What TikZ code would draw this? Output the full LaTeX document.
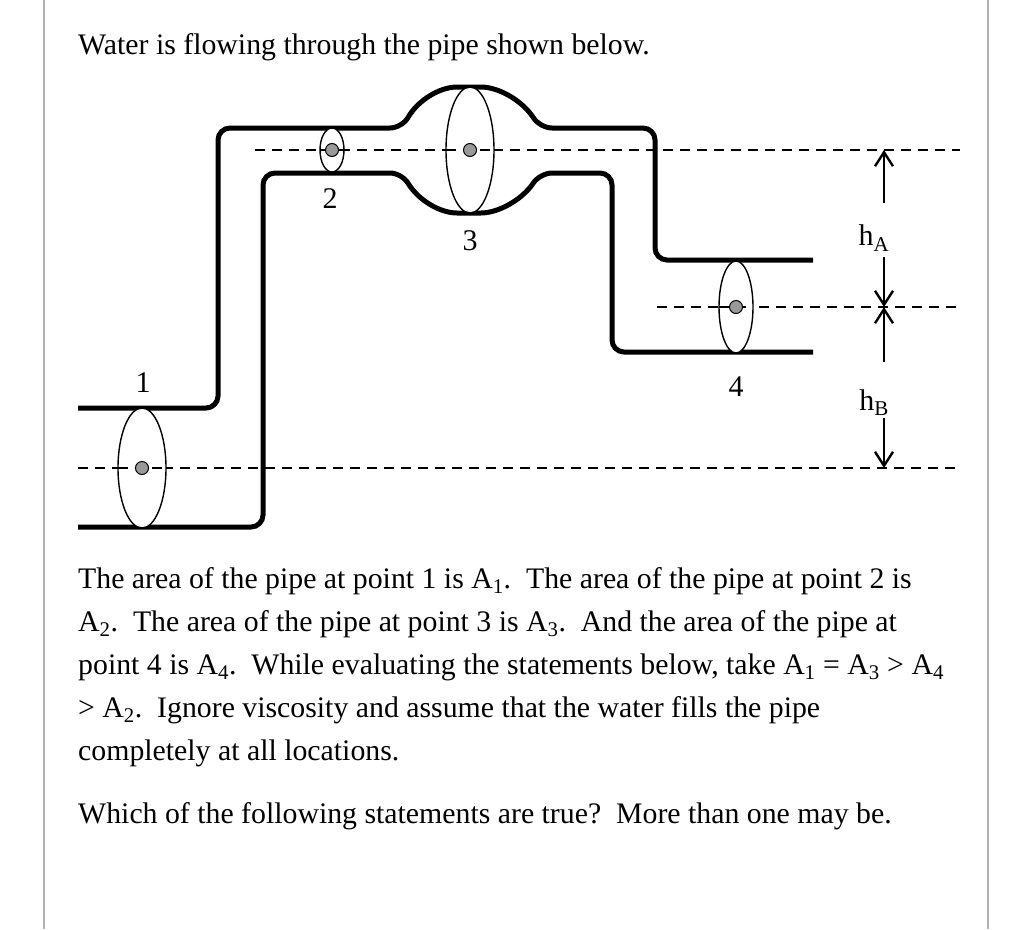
\documentclass[tikz,border=0pt]{standalone}
\usepackage{fontspec}
\setmainfont{Liberation Serif}
\usetikzlibrary{arrows.meta}
\tikzset{
 pipe/.style={line width=5pt,rounded corners=12pt},
 sect/.style={line width=1.4pt},
 dashln/.style={line width=2pt,dash pattern=on 10pt off 7pt},
 dot/.style={circle,fill=gray!80,draw=black,line width=1pt,minimum size=13pt,inner sep=0pt},
 lbl/.style={font=\fontsize{30}{34}\selectfont},
 txt/.style={anchor=base west,inner sep=0pt,font=\fontsize{29.8}{34}\selectfont},
 dim/.style={line width=1.6pt,-{Straight Barb[length=14pt,width=18pt,line width=2.4pt]}}
}
\begin{document}
\begin{tikzpicture}[x=1pt,y=-1pt]
\useasboundingbox (0,0) rectangle (1024,929);
\draw[gray!60,line width=1.2pt] (44,0)--(44,929) (988,0)--(988,929);
\node[txt] (t0) at (78,54) {Water is flowing through the pipe shown below.};
% dashed centre lines
\draw[dashln] (255,150)--(960,150);
\draw[dashln] (657,307)--(960,307);
\draw[dashln] (78,468)--(960,468);
% outer wall
\draw[pipe] (78,408)--(218,408)--(218,128)--(402,128)
  .. controls (418,100) and (440,87) .. (469,87) .. controls (498,87) and (522,100) .. (540,128)
  --(655,128)--(655,260)--(813,260);
% inner wall
\draw[pipe] (78,527)--(263,527)--(263,173)--(402,173)
  .. controls (418,200) and (440,213) .. (469,213) .. controls (498,213) and (522,200) .. (540,173)
  --(612,173)--(612,352)--(813,352);
% sections
\draw[sect,fill=white] (142,468) ellipse [x radius=24,y radius=60];
\draw[sect,fill=white] (332,150) ellipse [x radius=12,y radius=22];
\draw[sect,fill=white] (470,150) ellipse [x radius=24,y radius=63];
\draw[sect,fill=white] (736,307) ellipse [x radius=17,y radius=46];
\draw[dashln] (118,468)--(166,468) (320,150)--(344,150) (446,150)--(494,150) (719,307)--(753,307);
\node[dot] (p1) at (142,468) {};
\node[dot] (p2) at (332,150) {};
\node[dot] (p3) at (470,150) {};
\node[dot] (p4) at (736,307) {};
\node[lbl] (l1) at (143,383) {1};
\node[lbl] (l2) at (330,199) {2};
\node[lbl] (l3) at (470,241) {3};
\node[lbl] (l4) at (736,387) {4};
% dimensions
\coordinate (a0) at (884,150); \coordinate (a1) at (884,307); \coordinate (a2) at (884,468);
\node[lbl] (hA) at (874,238) {h\textsubscript{A}};
\node[lbl] (hB) at (874,403) {h\textsubscript{B}};
\draw[dim] (884,203)--(a0);
\draw[dim] (884,257)--(a1);
\draw[dim] (884,362)--(a1);
\draw[dim] (884,418)--(a2);
% text
\node[txt] (t1) at (78,588) {The area of the pipe at point 1 is A\textsubscript{1}.\ \ The area of the pipe at point 2 is};
\node[txt] (t2) at (78,631) {A\textsubscript{2}.\ \ The area of the pipe at point 3 is A\textsubscript{3}.\ \ And the area of the pipe at};
\node[txt] (t3) at (78,674) {point 4 is A\textsubscript{4}.\ \ While evaluating the statements below, take A\textsubscript{1} = A\textsubscript{3} > A\textsubscript{4}};
\node[txt] (t4) at (78,717) {> A\textsubscript{2}.\ \ Ignore viscosity and assume that the water fills the pipe};
\node[txt] (t5) at (78,760) {completely at all locations.};
\node[txt] (t6) at (78,823) {Which of the following statements are true?\ \ More than one may be.};
\end{tikzpicture}
\end{document}
